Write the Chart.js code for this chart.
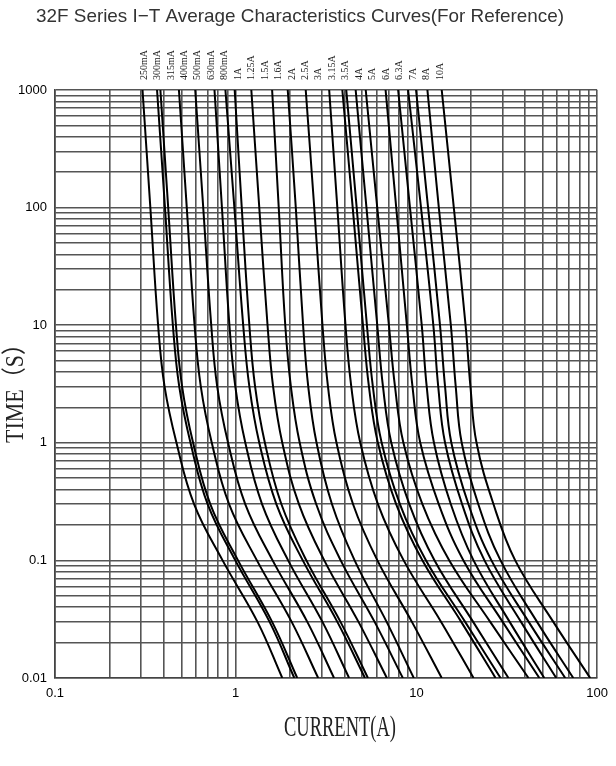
<!DOCTYPE html>
<html>
<head>
<meta charset="utf-8">
<script src="https://cdn.jsdelivr.net/npm/chart.js@4.4.0/dist/chart.umd.min.js"></script>
<style>
  html, body { margin: 0; padding: 0; background: #fff; }
</style>
</head>
<body>
<canvas id="itChart" width="616" height="766"></canvas>
<script>
// fuse ratings, in the order of the labels at the top of the chart
const ratings = ['250mA', '300mA', '315mA', '400mA', '500mA', '630mA', '800mA', '1A', '1.25A', '1.5A',
                 '1.6A', '2A', '2.5A', '3A', '3.15A', '3.5A', '4A', '5A', '6A', '6.3A', '7A', '8A', '10A'];

// pre-arcing time (s) at which each curve was read
const times = [1000, 100, 10, 3, 1, 0.3, 0.1, 0.03, 0.01];

// current (A) of each curve at those times
const i250mA = [0.305, 0.337, 0.372, 0.404, 0.470, 0.589, 0.846, 1.32, 1.81];
const i300mA = [0.367, 0.406, 0.449, 0.487, 0.562, 0.700, 0.995, 1.54, 2.11];
const i315mA = [0.383, 0.423, 0.467, 0.505, 0.581, 0.724, 1.03, 1.59, 2.19];
const i400mA = [0.485, 0.536, 0.592, 0.641, 0.737, 0.920, 1.31, 2.04, 2.86];
const i500mA = [0.597, 0.661, 0.732, 0.790, 0.907, 1.13, 1.60, 2.49, 3.50];
const i630mA = [0.763, 0.839, 0.923, 0.995, 1.13, 1.40, 1.95, 3.02, 4.24];
const i800mA = [0.877, 0.983, 1.10, 1.19, 1.35, 1.68, 2.35, 3.65, 5.19];
const i1A    = [0.987, 1.08, 1.19, 1.28, 1.45, 1.79, 2.46, 3.80, 5.39];
const i1_25A = [1.22, 1.35, 1.50, 1.61, 1.81, 2.24, 3.09, 4.78, 6.86];
const i1_5A  = [1.59, 1.73, 1.88, 2.02, 2.26, 2.79, 3.81, 5.87, 8.41];
const i1_6A  = [1.94, 2.15, 2.36, 2.52, 2.80, 3.41, 4.55, 6.84, 9.67];
const i2A    = [2.44, 2.72, 3.02, 3.24, 3.61, 4.46, 6.08, 9.44, 13.8];
const i2_5A  = [3.29, 3.65, 4.05, 4.36, 4.89, 6.13, 8.50, 13.7, 20.7];
const i3A    = [3.89, 4.44, 5.06, 5.46, 6.12, 7.73, 10.8, 17.7, 27.4];
const i3_15A = [4.09, 4.67, 5.32, 5.74, 6.42, 8.11, 11.3, 18.6, 29.2];
const i3_5A  = [4.61, 5.29, 6.07, 6.53, 7.26, 9.14, 12.6, 20.6, 32.3];
const i4A    = [5.24, 6.07, 7.04, 7.61, 8.47, 10.8, 15.2, 25.6, 41.7];
const i5A    = [6.75, 7.73, 8.85, 9.51, 10.5, 13.3, 18.2, 30.0, 47.9];
const i6A    = [7.92, 9.21, 10.7, 11.4, 12.5, 15.5, 20.7, 32.8, 51.0];
const i6_3A  = [8.99, 10.6, 12.4, 13.2, 14.4, 17.9, 23.8, 37.9, 59.4];
const i7A    = [9.95, 11.6, 13.5, 14.4, 15.6, 19.4, 26.0, 41.8, 66.6];
const i8A    = [11.5, 13.3, 15.5, 16.5, 17.8, 22.0, 29.2, 46.5, 73.8];
const i10A   = [13.8, 16.1, 18.7, 19.9, 21.5, 26.7, 35.2, 57.2, 91.5];

const curves = [i250mA, i300mA, i315mA, i400mA, i500mA, i630mA, i800mA, i1A, i1_25A, i1_5A, i1_6A, i2A,
                i2_5A, i3A, i3_15A, i3_5A, i4A, i5A, i6A, i6_3A, i7A, i8A, i10A];

// labelled ticks
const xTickLabels = [0.1, 1, 10, 100];
const yTickLabels = [0.01, 0.1, 1, 10, 100, 1000];

const titleText = '32F Series I\u2212T Average Characteristics Curves(For Reference)';
const xTitle = 'CURRENT(A)';
const yTitle = 'TIME\uFF08S\uFF09';

// grid at 1..9 of every decade
function decadeGrid(labels) {
  const out = [];
  for (let d = 0; d < labels.length - 1; d++) {
    for (let k = 1; k < 10; k++) out.push(+(labels[d] * k).toPrecision(6));
  }
  out.push(labels[labels.length - 1]);
  return out;
}
const xGrid = decadeGrid(xTickLabels);
const yGrid = decadeGrid(yTickLabels);

const isLabel = (list, v) => list.some(l => Math.abs(l - v) < l * 1e-6);

// draw text squeezed to a given width
function squeezed(ctx, text, x, y, width, font, color, angle) {
  ctx.save();
  ctx.font = font;
  ctx.fillStyle = color;
  ctx.textAlign = 'center';
  ctx.textBaseline = 'middle';
  ctx.translate(x, y);
  if (angle) ctx.rotate(angle);
  const w = ctx.measureText(text).width;
  ctx.scale(width / w, 1);
  ctx.fillText(text, 0, 0);
  ctx.restore();
}

const textPlugin = {
  id: 'texts',
  afterDraw(chart) {
    const ctx = chart.ctx;
    squeezed(ctx, titleText, 300, 17, 528, '19px "Liberation Sans", Arial, sans-serif', '#333');
    squeezed(ctx, yTitle, 16, 388, 110, '25px "Liberation Serif", "Noto Sans CJK SC", serif', '#222', -Math.PI / 2);
    squeezed(ctx, xTitle, 340, 728, 112, '29px "Liberation Serif", serif', '#222');

    // rating labels along the top
    ctx.save();
    ctx.font = '10px "Liberation Serif", serif';
    ctx.fillStyle = '#222';
    ctx.textAlign = 'left';
    ctx.textBaseline = 'middle';
    ratings.forEach((r, i) => {
      ctx.save();
      ctx.translate(144 + i * 13.45, 80);
      ctx.rotate(-Math.PI / 2);
      ctx.fillText(r, 0, 0);
      ctx.restore();
    });
    ctx.restore();
  }
};

const gridStyle = { color: '#555', lineWidth: 1.6, drawTicks: false };
const tickFont = { family: '"Liberation Sans", Arial, sans-serif', size: 13 };

new Chart(document.getElementById('itChart'), {
  type: 'line',
  data: {
    datasets: curves.map((c, i) => ({
      label: ratings[i],
      data: c.map((a, k) => ({ x: a, y: times[k] })),
      borderColor: '#000',
      borderWidth: 2,
      pointRadius: 0,
      fill: false,
      tension: 0.4
    }))
  },
  options: {
    responsive: false,
    animation: false,
    layout: { padding: { left: 0, right: 17, top: 90, bottom: 0 } },
    plugins: { legend: { display: false }, tooltip: { enabled: false } },
    scales: {
      x: {
        type: 'logarithmic',
        min: 0.1,
        max: 100,
        afterBuildTicks: s => { s.ticks = xGrid.map(v => ({ value: v })); },
        afterFit: s => { s.height = 88; },
        grid: gridStyle,
        border: { color: '#444', width: 1.6 },
        ticks: {
          autoSkip: false, maxRotation: 0, padding: 8, color: '#000', font: tickFont,
          callback: v => isLabel(xTickLabels, v) ? String(v) : ''
        }
      },
      y: {
        type: 'logarithmic',
        min: 0.01,
        max: 1000,
        afterBuildTicks: s => { s.ticks = yGrid.map(v => ({ value: v })); },
        afterFit: s => { s.width = 55; },
        grid: gridStyle,
        border: { color: '#444', width: 1.6 },
        ticks: {
          autoSkip: false, padding: 8, color: '#000', font: tickFont,
          callback: v => isLabel(yTickLabels, v) ? String(v) : ''
        }
      }
    }
  },
  plugins: [textPlugin]
});
</script>
</body>
</html>
